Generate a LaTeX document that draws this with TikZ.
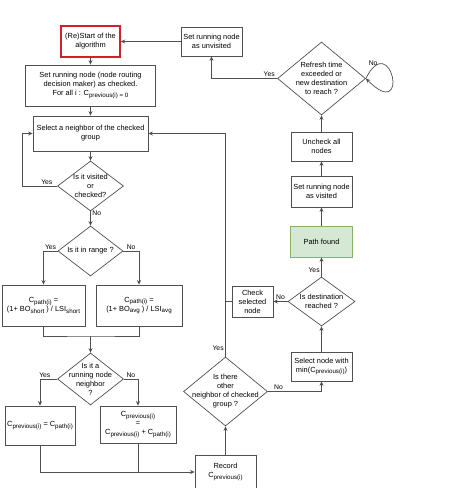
\documentclass[tikz,border=0pt]{standalone}
\usepackage{fontspec}
\setmainfont{Liberation Sans}
\usetikzlibrary{arrows.meta,positioning,shapes.geometric,calc}
\definecolor{linegray}{HTML}{505050}
\definecolor{startred}{HTML}{D0202A}
\definecolor{foundfill}{HTML}{D5E8D4}
\definecolor{foundline}{HTML}{82B366}
\newcommand{\sbs}[1]{\raisebox{-0.45ex}{\fontsize{6.2}{6.5}\selectfont #1}}
\newcommand{\Cprev}{C\sbs{previous(i)}}
\newcommand{\Cpath}{C\sbs{path(i)}}

\begin{document}
\begin{tikzpicture}[
  x=1pt, y=-1pt,
  every node/.style={font={\fontsize{7.4}{9}\selectfont}, align=center},
  box/.style={draw=linegray, line width=0.7pt, inner sep=1pt},
  dec/.style={diamond, draw=linegray, line width=0.7pt, inner sep=0pt},
  txt/.style={inner sep=0pt},
  lbl/.style={font={\fontsize{6.8}{7}\selectfont}, inner sep=1.5pt},
  arr/.style={-{Stealth[length=4.5pt, width=4pt]}, draw=linegray, line width=0.7pt},
  ln/.style={draw=linegray, line width=0.7pt},
]
  \useasboundingbox (0,0) rectangle (474,488);

  % left column
  \node[box, draw=startred, line width=1.4pt, minimum width=59pt, minimum height=31pt] (start) at (90.5,41.5) {(Re)Start of the\\algorithm};
  \node[box, minimum width=130pt, minimum height=41pt] (setrun) at (90.5,85.5) {Set running node (node routing\\decision maker) as checked.\\For all i : C\sbs{previous(i) = 0}};
  \node[box, minimum width=115pt, minimum height=35pt] (select) at (90.5,133.5) {Select a neighbor of the checked\\group};
  \node[dec, minimum width=66pt, minimum height=50pt, label={[txt]center:{Is it visited\\or\\checked?}}] (visited) at (90.5,186) {};
  \node[dec, minimum width=65pt, minimum height=50pt, label={[txt]center:{Is it in range ?}}] (range) at (90.5,251) {};
  \node[box, minimum width=83pt, minimum height=41pt] (short) at (43.5,305.5) {\Cpath{} =\\(1+ BO\sbs{short} ) / LSI\sbs{short}};
  \node[box, minimum width=86pt, minimum height=41pt] (avg) at (139,305.5) {\Cpath{} =\\(1+ BO\sbs{avg} ) / LSI\sbs{avg}};
  \node[dec, minimum width=66pt, minimum height=52pt, label={[txt]center:{Is it a\\running node\\neighbor\\?}}] (nbr) at (90.5,379) {};
  \node[box, minimum width=70pt, minimum height=39pt] (eq) at (40,425.5) {\Cprev{} = \Cpath};
  \node[box, minimum width=76pt, minimum height=37pt] (sum) at (138,424.5) {\Cprev\\=\\\Cprev{} + \Cpath};

  % middle
  \node[box, minimum width=61pt, minimum height=29pt] (unvisit) at (211.5,41.5) {Set running node\\as unvisited};
  \node[box, minimum width=61pt, minimum height=34pt] (record) at (225.5,472) {Record\\\Cprev};
  \node[dec, minimum width=84pt, minimum height=69pt, label={[txt]center:{Is there\\other\\neighbor of checked\\group ?}}] (more) at (225.5,391.5) {};
  \node[box, minimum width=41pt, minimum height=31pt] (check) at (252.5,301.5) {Check\\selected\\node};

  % right column
  \node[dec, minimum width=88pt, minimum height=73pt, label={[txt]center:{Refresh time\\exceeded or\\new destination\\to reach ?}}] (refresh) at (321.5,78.5) {};
  \node[box, minimum width=61pt, minimum height=29pt] (uncheck) at (321.5,146.5) {Uncheck all\\nodes};
  \node[box, minimum width=61pt, minimum height=31pt] (visbox) at (321.5,191.5) {Set running node\\as visited};
  \node[box, draw=foundline, fill=foundfill, minimum width=62pt, minimum height=31pt] (found) at (321.5,241.5) {Path found};
  \node[dec, minimum width=67pt, minimum height=49pt, label={[txt]center:{Is destination\\reached ?}}] (dest) at (321.5,301.5) {};
  \node[box, minimum width=61pt, minimum height=29pt] (minsel) at (321.5,366.5) {Select node with\\min(\Cprev)};

  % edges
  \draw[arr] (unvisit) -- (start);
  \draw[arr] (start) -- (setrun);
  \draw[arr] (setrun) -- (select);
  \draw[arr] (select) -- (visited);
  \draw[arr] (visited.west) -| node[lbl, pos=0.15, above]{Yes} ([xshift=-10pt]select.west) -- (select.west);
  \draw[arr] (visited) -- node[lbl, pos=0.1, right]{No} (range);
  \draw[arr] (range.west) -| node[lbl, pos=0.25, above]{Yes} (short.north);
  \draw[arr] (range.east) -| node[lbl, pos=0.25, above]{No} (avg.north);
  \coordinate (j1) at (90.5,336);
  \draw[ln] (short.south) |- (j1) -| (avg.south);
  \draw[arr] (j1) -- (nbr);
  \draw[arr] (nbr.west) -| node[lbl, pos=0.36, above]{Yes} (eq.north);
  \draw[arr] (nbr.east) -| node[lbl, pos=0.25, above]{No} (sum.north);
  \draw[arr] (eq.south) |- (record.west);
  \draw[ln] (sum.south) -- (sum.south |- record.west);
  \draw[arr] (record) -- (more);
  \draw[arr] (more.north) |- node[lbl, pos=0.02, left]{Yes} (select.east);
  \draw[arr] (more.east) -| node[lbl, pos=0.1, above]{No} (minsel.south);
  \draw[arr] (minsel) -- (dest);
  \draw[arr] (dest) -- node[lbl, pos=0.35, left]{Yes} (found);
  \draw[arr] (dest) -- node[lbl, above]{No} (check);
  \draw[ln] (check.west) -- (check.west -| more.north);
  \draw[arr] (found) -- (visbox);
  \draw[arr] (visbox) -- (uncheck);
  \draw[arr] (uncheck) -- (refresh);
  \draw[arr] (refresh.west) -| node[lbl, pos=0.06, above]{Yes} (unvisit.south);
  \draw[arr] (refresh.east) .. controls +(25,-50) and +(45,45) .. node[lbl, pos=0.1, above]{No} (refresh.east);
\end{tikzpicture}
\end{document}
